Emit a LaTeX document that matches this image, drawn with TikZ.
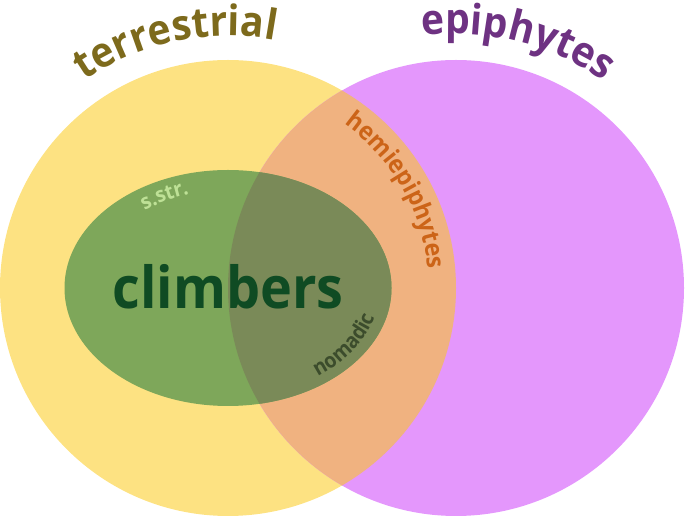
\documentclass[tikz,border=0pt]{standalone}
\usepackage{fontspec}
\setmainfont{Open Sans}[BoldFeatures={FakeStretch=0.93}]
\usepackage{xcolor}
\usetikzlibrary{decorations.text}

\definecolor{terrfill}{HTML}{FDE282}
\definecolor{epifill}{HTML}{E497FC}
\definecolor{hemifill}{HTML}{F0B280}
\definecolor{climbfill}{HTML}{7EA75A}
\definecolor{nomadfill}{HTML}{7A8A58}
\definecolor{terrtext}{HTML}{7D6A1C}
\definecolor{epitext}{HTML}{6E3282}
\definecolor{hemitext}{HTML}{CC6418}
\definecolor{climbtext}{HTML}{0F4B23}
\definecolor{sstrtext}{HTML}{BEE196}
\definecolor{nomadtext}{HTML}{3C4C2C}

\tikzset{
  arclabel/.style={decorate, decoration={text along path, text align=center, text={#1}}}
}

\begin{document}
\begin{tikzpicture}[x=1pt, y=1pt]
                \useasboundingbox (0,0) rectangle (685,516);
                \coordinate (terr) at (228,228);
                \coordinate (epi) at (456,228);
                \fill[terrfill] (terr) circle[radius=228];
                \fill[epifill] (epi) circle[radius=228];
                \begin{scope}
                    \clip (terr) circle[radius=228];
                    \fill[hemifill] (epi) circle[radius=228];
                \end{scope}
                \fill[climbfill] (terr) ellipse[x radius=163.5, y radius=118];
                \begin{scope}
                    \clip (epi) circle[radius=228];
                    \fill[nomadfill] (terr) ellipse[x radius=163.5, y radius=118];
                \end{scope}
                \node[anchor=base, text=climbtext, font=\fontsize{58}{64}\selectfont\bfseries] (climbers) at (228,207) {climbers};
                \path[arclabel={|\fontsize{42}{46}\selectfont\bfseries\color{terrtext}|terrestrial}] ([shift={(142:252)}]terr) arc[start angle=142, end angle=62, radius=252];
                \path[arclabel={|\fontsize{42}{46}\selectfont\bfseries\color{epitext}|epiphytes}] ([shift={(116:254)}]epi) arc[start angle=116, end angle=36, radius=254];
                \path[arclabel={|\fontsize{25}{28}\selectfont\bfseries\color{hemitext}|hemiepiphytes}] ([shift={(69:201)}]terr) arc[start angle=69, end angle=-9, radius=201];
                \path[arclabel={|\fontsize{21}{24}\selectfont\bfseries\color{sstrtext}|s.str.}] ([shift={(142:136 and 98)}]terr) arc[start angle=142, end angle=94, x radius=136, y radius=98];
                \path[arclabel={|\fontsize{21}{24}\selectfont\bfseries\color{nomadtext}|nomadic}] ([shift={(-58:152 and 110)}]terr) arc[start angle=-58, end angle=-10, x radius=152, y radius=110];
            \end{tikzpicture}
\end{document}
